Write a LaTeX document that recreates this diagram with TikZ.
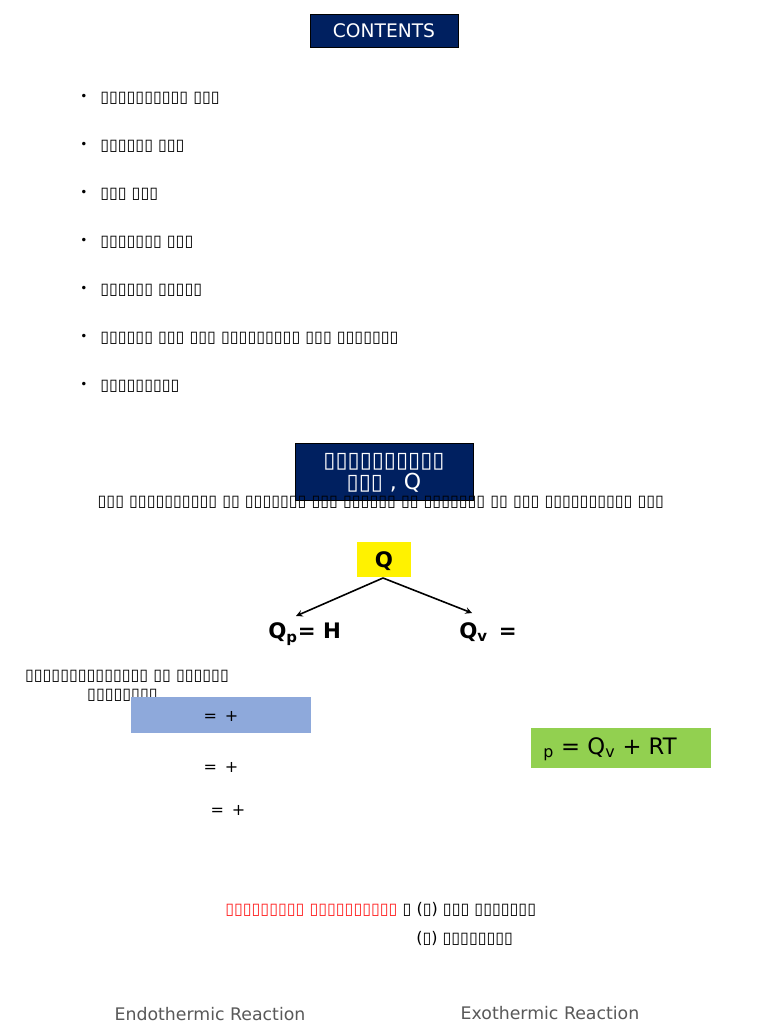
\documentclass[tikz,border=0pt]{standalone}
\usepackage{fontspec}
\setmainfont{DejaVu Sans}
\definecolor{navy}{HTML}{002060}
\definecolor{lblue}{HTML}{8EA9DB}
\definecolor{lgreen}{HTML}{92D050}
\definecolor{tofured}{HTML}{FF2020}
\begin{document}
\begin{tikzpicture}[x=0.75pt,y=-0.75pt,
  txt/.style={font=\fontsize{12}{14}\selectfont,inner sep=0pt},
  btxt/.style={font=\fontsize{16}{18}\selectfont\bfseries,inner sep=0pt},
  hdr/.style={fill=navy,text=white,font=\fontsize{14}{15}\selectfont,draw=black,line width=0.4pt},
  blt/.style={font=\fontsize{9}{10}\selectfont,inner sep=0pt}]
\useasboundingbox (0,0) rectangle (768,1024);
\fill[white] (0,0) rectangle (768,1024);
% contents header
\node[hdr,minimum width=111pt,minimum height=25pt] (cont) at (384,30.5) {CONTENTS};
% bullets
\foreach \y/\t [count=\i] in {98/▯▯▯▯▯▯▯▯▯▯ ▯▯▯,146/▯▯▯▯▯▯ ▯▯▯,194/▯▯▯ ▯▯▯,242/▯▯▯▯▯▯▯ ▯▯▯,290/▯▯▯▯▯▯ ▯▯▯▯▯,338/▯▯▯▯▯▯ ▯▯▯ ▯▯▯ ▯▯▯▯▯▯▯▯▯ ▯▯▯ ▯▯▯▯▯▯▯,386/▯▯▯▯▯▯▯▯▯}{
  \node[blt] (b\i) at (84,\y-1) {•};
  \node[txt,anchor=west] (t\i) at (100,\y) {\t};
}
% title box
\fill[navy] (295,443) rectangle (473,500);
\draw[black,line width=0.4pt] (295,443) rectangle (473,500);
\node[text=white,font=\fontsize{16.5}{16}\selectfont,align=center,inner sep=0pt] (title) at (384,473) {▯▯▯▯▯▯▯▯▯▯\\▯▯▯ , Q};
\node[txt] (def) at (381,502) {▯▯▯ ▯▯▯▯▯▯▯▯▯▯ ▯▯ ▯▯▯▯▯▯▯ ▯▯▯ ▯▯▯▯▯▯ ▯▯ ▯▯▯▯▯▯▯ ▯▯ ▯▯▯ ▯▯▯▯▯▯▯▯▯▯ ▯▯▯};
% Q
\fill[yellow] (357,542) rectangle (411,577);
\node[btxt] (q) at (384,561) {Q};
\coordinate (qs) at (383,578);
\node[btxt,anchor=west] (qp) at (268,634) {Q\textsubscript{p}= H};
\node[btxt,anchor=west] (qv) at (459,632) {Q\textsubscript{v} \,=};
\draw[-stealth,line width=1.2pt] (qs) -- (296,616);
\draw[-stealth,line width=1.2pt] (qs) -- (472,613);
% left text
\node[txt] (lt1) at (127,676) {▯▯▯▯▯▯▯▯▯▯▯▯▯▯ ▯▯ ▯▯▯▯▯▯};
\node[txt] (lt2) at (125,695) {▯▯▯▯▯▯▯▯.};
\fill[lblue] (131,697) rectangle (311,733);
\node[txt] (e1) at (221,716) {=\, +};
\node[txt] (e2) at (221,767) {=\, +};
\node[txt] (e3) at (228,810) {=\, +};
% green
\fill[lgreen] (531,728) rectangle (711,768);
\node[font=\fontsize{17}{18}\selectfont,inner sep=0pt,anchor=west] (rt) at (543,749) {\textsubscript{p} = Q\textsubscript{v} + RT};
% red line
\node[txt,anchor=west] (red) at (225,909) {\textcolor{tofured}{▯▯▯▯▯▯▯▯▯ ▯▯▯▯▯▯▯▯▯▯} ▯ (▯) ▯▯▯ ▯▯▯▯▯▯▯};
\node[txt,anchor=west] (red2) at (416,938) {(▯) ▯▯▯▯▯▯▯▯};
\node[text=black!65,font=\fontsize{13}{14}\selectfont,inner sep=0pt] (endo) at (210,1014) {Endothermic Reaction};
\node[text=black!65,font=\fontsize{13}{14}\selectfont,inner sep=0pt] (exo) at (550,1013) {Exothermic Reaction};
\end{tikzpicture}
\end{document}
